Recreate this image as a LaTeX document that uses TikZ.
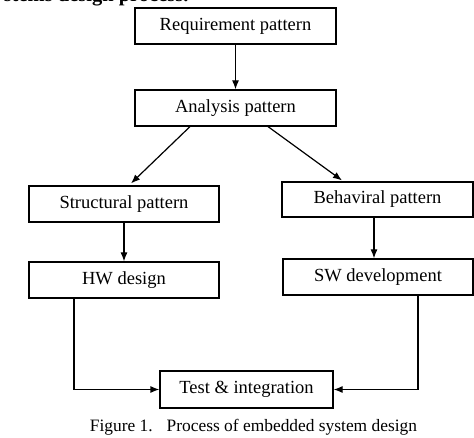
\documentclass[tikz,border=0pt]{standalone}
\usepackage{fontspec}
\setmainfont{Liberation Serif}
\usetikzlibrary{arrows.meta}
\tikzset{
  stage/.style={draw,line width=1.2pt,minimum height=36pt,inner sep=0pt,font=\fontsize{18.5}{22}\selectfont},
  flow/.style={line width=1.2pt,-{Latex[length=9pt,width=7pt]}}
}
\begin{document}
\begin{tikzpicture}[x=1pt,y=-1pt]
\useasboundingbox (0,0) rectangle (474,438);

\node[anchor=base east,font=\fontsize{20.5}{24}\selectfont\bfseries] (prev) at (192,1.5) {systems design process.};

\node[stage,minimum width=201pt] (req) at (235.5,26) {Requirement pattern};
\node[stage,minimum width=201pt] (ana) at (235.5,108) {Analysis pattern};
\node[stage,minimum width=190pt] (str) at (124,204) {Structural pattern};
\node[stage,minimum width=191pt,minimum height=35pt] (beh) at (377.5,199.5) {Behaviral pattern};
\node[stage,minimum width=190pt] (hw) at (124,280) {HW design};
\node[stage,minimum width=190pt] (sw) at (378,277) {SW development};
\node[stage,minimum width=173pt,minimum height=37pt] (test) at (246.5,389.5) {Test \& integration};

\draw[flow] (req) -- (ana);
\draw[flow] ([xshift=-45.5pt]ana.south) -- ([xshift=7pt,yshift=2pt]str.north);
\draw[flow] ([xshift=32.5pt]ana.south) -- ([xshift=-35.5pt,yshift=1pt]beh.north);
\draw[flow] (str) -- (hw);
\draw[flow] ([xshift=-3.5pt]beh.south) -- ([xshift=-4pt]sw.north);
\draw[flow] ([xshift=-50pt]hw.south) |- (test);
\draw[flow] ([xshift=40pt]sw.south) |- (test);

\node[anchor=base,font=\fontsize{17.4}{20}\selectfont] (cap) at (253.5,431) {Figure 1.\hspace{0.8em}Process of embedded system design};
\end{tikzpicture}
\end{document}
